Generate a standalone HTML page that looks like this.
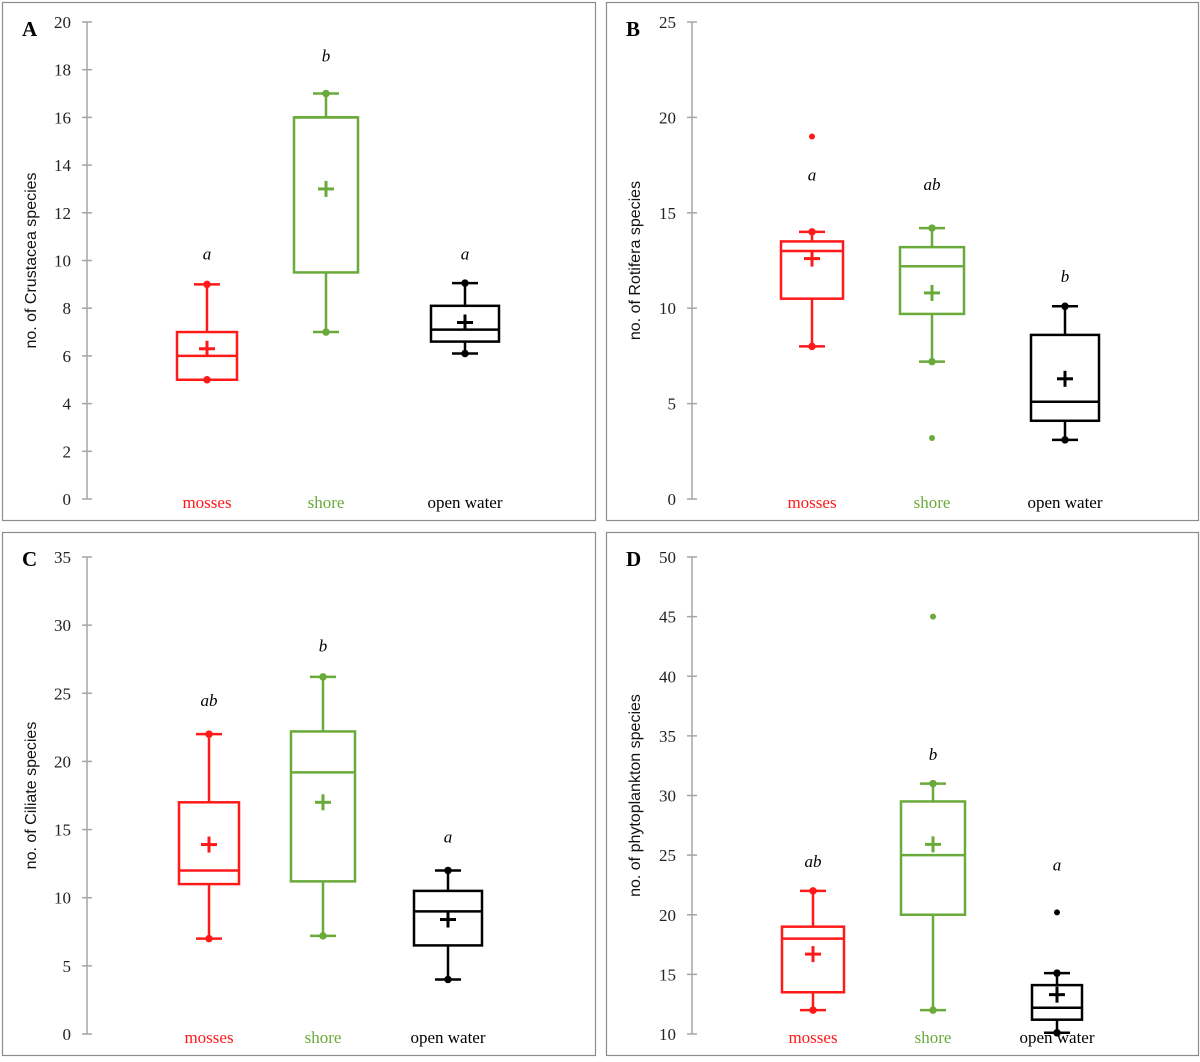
<!DOCTYPE html>
<html><head><meta charset="utf-8"><style>
body{margin:0;background:#fff;width:1200px;height:1057px;overflow:hidden}
svg text{font-family:"Liberation Serif",serif}
</style></head><body>
<svg id="s" width="1200" height="1057" xmlns="http://www.w3.org/2000/svg"></svg>
<script>
const categories=["mosses","shore","open water"];
const colors=["#ff1a1a","#6aaa3a","#000000"];
// [min,q1,median,q3,max,mean]
const statsA=[[5,5,6,7,9,6.3],[7,9.5,16,16,17,13],[6.1,6.6,7.1,8.1,9.05,7.4]];
const statsB=[[8,10.5,13,13.5,14,12.6],[7.2,9.7,12.2,13.2,14.2,10.8],[3.1,4.1,5.1,8.6,10.1,6.3]];
const statsC=[[7,11,12,17,22,13.9],[7.2,11.2,19.2,22.2,26.2,17],[4,6.5,9,10.5,12,8.4]];
const statsD=[[12,13.5,18,19,22,16.7],[12,20,25,29.5,31,25.9],[10.1,11.2,12.2,14.1,15.1,13.3]];
const outliersB=[[19],[3.2],[]];
const outliersD=[[],[45],[20.2]];
const lettersA=["a","b","a"],lettersB=["a","ab","b"],lettersC=["ab","b","a"],lettersD=["ab","b","a"];
const letterPosA=[10.3,18.6,10.3],letterPosB=[17,16.5,11.7],letterPosC=[24.5,28.5,14.5],letterPosD=[24.5,33.5,24.2];
const ticksA=[0,2,4,6,8,10,12,14,16,18,20],ticksB=[0,5,10,15,20,25],ticksC=[0,5,10,15,20,25,30,35],ticksD=[10,15,20,25,30,35,40,45,50];

const S=document.getElementById('s');const NS="http://www.w3.org/2000/svg";
function mk(t,a,p){const e=document.createElementNS(NS,t);for(const k in a)e.setAttribute(k,a[k]);(p||S).appendChild(e);return e;}
const panels=[
 {id:"A",bx:2,by:2,bw:593,bh:518,ax:87,y0:499,y1:22,ticks:ticksA,stats:statsA,out:[[],[],[]],let:lettersA,lp:letterPosA,xs:[207,326,465],title:"no. of Crustacea species",hw:[30,32,34]},
 {id:"B",bx:606,by:2,bw:592,bh:518,ax:692,y0:499,y1:22,ticks:ticksB,stats:statsB,out:outliersB,let:lettersB,lp:letterPosB,xs:[812,932,1065],title:"no. of Rotifera species",hw:[31,32,34]},
 {id:"C",bx:2,by:532,bw:593,bh:523,ax:87,y0:1034,y1:557,ticks:ticksC,stats:statsC,out:[[],[],[]],let:lettersC,lp:letterPosC,xs:[209,323,448],title:"no. of Ciliate species",hw:[30,32,34]},
 {id:"D",bx:606,by:532,bw:592,bh:523,ax:692,y0:1034,y1:557,ticks:ticksD,stats:statsD,out:outliersD,let:lettersD,lp:letterPosD,xs:[813,933,1057],title:"no. of phytoplankton species",hw:[31,32,25]}
];
panels.forEach(p=>{
 const g=mk('g',{});
 
 
 const fr=mk('rect',{x:p.bx+0.5,y:p.by+0.5,width:p.bw,height:p.bh,fill:'none',stroke:'#8c8c8c','stroke-width':1.2},g);
 
 const lab=mk('text',{x:p.bx+20,y:p.by+34,'font-size':21,'font-weight':'bold'},g);lab.textContent=p.id;
 
 const lo=p.ticks[0],hi=p.ticks[p.ticks.length-1];
 const Y=v=>p.y0+(v-lo)/(hi-lo)*(p.y1-p.y0);
 const ax=mk('line',{x1:p.ax,x2:p.ax,y1:Y(lo),y2:Y(hi),stroke:'#a6a6a6','stroke-width':1.5},g);
 
 p.ticks.forEach(t=>{
  mk('line',{x1:p.ax-5,x2:p.ax+5,y1:Y(t),y2:Y(t),stroke:'#a6a6a6','stroke-width':1.5},g);
  const tl=mk('text',{x:p.ax-16,y:Y(t)+6,'font-size':17,'text-anchor':'end',fill:'#222'},g);tl.textContent=t;
  
 });
 const cy=(p.y0+p.y1)/2;
 const yt=mk('text',{x:p.bx+34,y:cy,'font-size':16,'text-anchor':'middle',transform:`rotate(-90 ${p.bx+34} ${cy})`,style:'font-family:"Liberation Sans",sans-serif',fill:'#111'},g);
 yt.textContent=p.title;
 categories.forEach((c,i)=>{
  const x=p.xs[i],col=colors[i],s=p.stats[i],hw=p.hw[i];
  const bg=mk('g',{stroke:col,'stroke-width':2.5,fill:'none'},g);
  
  mk('line',{x1:x,x2:x,y1:Y(s[0]),y2:Y(s[1])},bg);
  mk('line',{x1:x,x2:x,y1:Y(s[3]),y2:Y(s[4])},bg);
  mk('line',{x1:x-13,x2:x+13,y1:Y(s[0]),y2:Y(s[0])},bg);
  mk('line',{x1:x-13,x2:x+13,y1:Y(s[4]),y2:Y(s[4])},bg);
  mk('circle',{cx:x,cy:Y(s[0]),r:2.5,fill:col},bg);mk('circle',{cx:x,cy:Y(s[4]),r:2.5,fill:col},bg);
  mk('rect',{x:x-hw,y:Y(s[3]),width:2*hw,height:Y(s[1])-Y(s[3])},bg);
  mk('line',{x1:x-hw,x2:x+hw,y1:Y(s[2]),y2:Y(s[2])},bg);
  const my=Y(s[5]);
  mk('line',{x1:x-8,x2:x+8,y1:my,y2:my,'stroke-width':3},bg);
  mk('line',{x1:x,x2:x,y1:my-8,y2:my+8,'stroke-width':3},bg);
  p.out[i].forEach(o=>{const oc=mk('circle',{cx:x,cy:Y(o),r:3,fill:col,stroke:'none'},g);
   });
  const lt=mk('text',{x:x,y:Y(p.lp[i])+6,'font-size':17,'font-style':'italic','text-anchor':'middle'},g);lt.textContent=p.let[i];
  
  const cl=mk('text',{x:x,y:p.y0+9,'font-size':17,'text-anchor':'middle',fill:col},g);cl.textContent=c;
  
 });
});
</script>
</body></html>
